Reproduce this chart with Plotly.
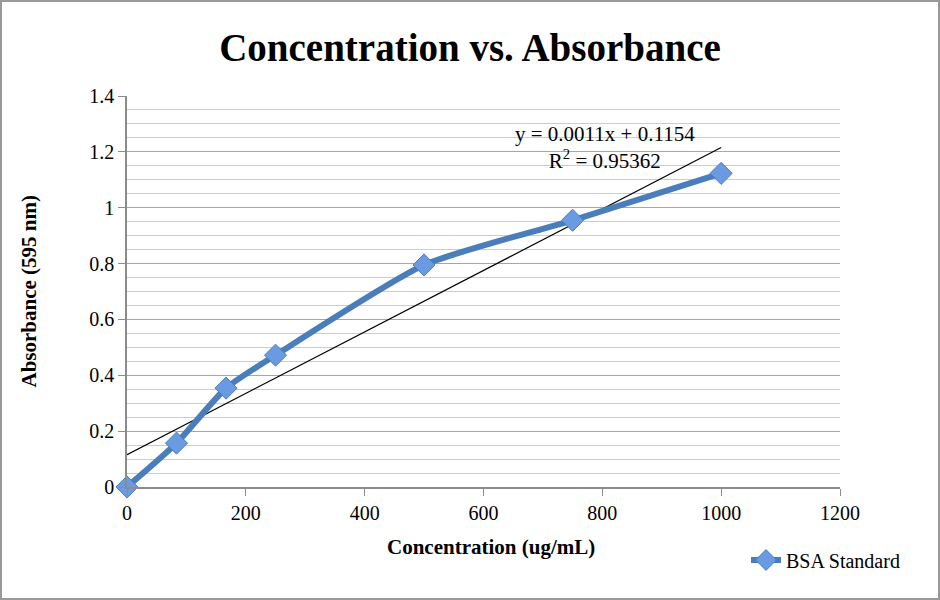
import plotly.graph_objects as go
import numpy as np

concentration = [0, 83.3, 166.7, 250, 500, 750, 1000]
absorbance = [0.0, 0.157, 0.354, 0.472, 0.795, 0.955, 1.123]
trend_slope = 0.0011
trend_intercept = 0.1154
trend_label = "y = 0.0011x + 0.1154<br>R<sup>2</sup> = 0.95362"

W, H = 940, 600
L, R, T, B = 127, 100, 96, 113
pw, ph = W - L - R, H - T - B

trend_x = np.array([min(concentration), max(concentration)])
trend_y = trend_slope * trend_x + trend_intercept

font = "Liberation Serif"

fig = go.Figure()
fig.add_trace(go.Scatter(
    x=trend_x, y=trend_y, mode="lines",
    line=dict(color="black", width=1.2), showlegend=False, hoverinfo="skip"))
fig.add_trace(go.Scatter(
    x=concentration, y=absorbance, mode="lines+markers", name="BSA Standard",
    line=dict(color="#4A7EBB", width=6, shape="spline", smoothing=0.6),
    marker=dict(symbol="diamond", size=17, color="#6A9BE2",
                line=dict(color="#4A7EBB", width=1)),
    cliponaxis=False))

fig.update_layout(
    width=W, height=H,
    margin=dict(l=L, r=R, t=T, b=B),
    paper_bgcolor="white", plot_bgcolor="white",
    font=dict(family=font, size=20, color="black"),
    title=dict(text="<b>Concentration vs. Absorbance</b>", x=0.5, xanchor="center",
               y=1 - 47 / H, yanchor="middle", font=dict(size=39, family=font)),
    xaxis=dict(range=[0, 1200], dtick=200, showgrid=False, showline=True,
               linecolor="#8C8C8C", linewidth=1.5, ticks="outside", ticklen=7,
               tickcolor="#8C8C8C", zeroline=False),
    yaxis=dict(range=[0, 1.4], dtick=0.2, showgrid=True, gridcolor="#A6A6A6",
               gridwidth=1.3, showline=True, linecolor="#8C8C8C", linewidth=1.5,
               ticks="outside", ticklen=7, tickcolor="#8C8C8C", zeroline=False,
               tickformat="~g",
               minor=dict(dtick=0.05, showgrid=True, gridcolor="#CCCCCC",
                          gridwidth=1.3, ticks="")),
    legend=dict(x=(746 - L) / pw, y=-(560 - (H - B)) / ph,
                xanchor="left", yanchor="middle", font=dict(size=20),
                bgcolor="rgba(0,0,0,0)", itemwidth=30),
    showlegend=True,
)

# axis titles
fig.add_annotation(text="<b>Concentration (ug/mL)</b>", xref="paper", yref="paper",
                   x=(491 - L) / pw, y=-(547 - (H - B)) / ph, showarrow=False,
                   xanchor="center", yanchor="middle", font=dict(size=21))
fig.add_annotation(text="<b>Absorbance (595 nm)</b>", xref="paper", yref="paper",
                   x=-(L - 28) / pw, y=0.5, showarrow=False, textangle=-90,
                   xanchor="center", yanchor="middle", font=dict(size=21))

fig.add_annotation(
    text=trend_label, x=805, y=1.214, xref="x", yref="y", showarrow=False,
    font=dict(size=21, family=font), align="center", yanchor="middle")

# Figure border
fig.add_shape(type="rect", xref="paper", yref="paper",
              x0=-(L - 1) / pw, x1=1 + (R - 1) / pw,
              y0=-(B - 1) / ph, y1=1 + (T - 1) / ph,
              line=dict(color="#9A9A9A", width=2), layer="below")

fig.write_html("out.html", config={"displayModeBar": False},
               post_script="document.body.style.margin='0';")
